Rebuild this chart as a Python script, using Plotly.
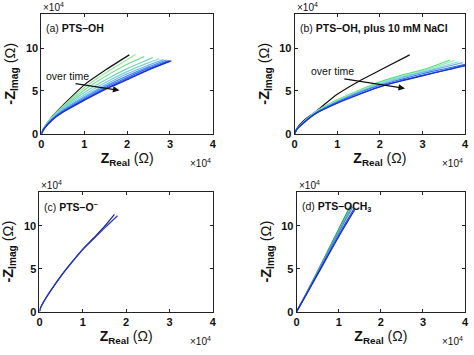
import plotly.graph_objects as go

# ---------------- data (x and y in units of 1e4 ohm) ----------------
# Panel (a): PTS-OH
a_x = [
    [0, 0.05, 0.25, 0.5, 1.0, 1.5, 2.05],
    [0, 0.05, 0.25, 0.5, 1.0, 1.5, 2.2],
    [0, 0.05, 0.25, 0.5, 1.0, 1.5, 2.0, 2.4],
    [0, 0.05, 0.25, 0.5, 1.0, 1.5, 2.0, 2.5, 2.6],
    [0, 0.05, 0.25, 0.5, 1.0, 1.5, 2.0, 2.5, 2.75],
    [0, 0.05, 0.25, 0.5, 1.0, 1.5, 2.0, 2.5, 2.85],
    [0, 0.05, 0.25, 0.5, 1.0, 1.5, 2.0, 2.5, 2.92],
    [0, 0.05, 0.25, 0.5, 1.0, 1.5, 2.0, 2.5, 2.97],
    [0, 0.05, 0.25, 0.5, 1.0, 1.5, 2.0, 2.5, 3.0],
    [0, 0.05, 0.25, 0.5, 1.0, 1.5, 2.0, 2.5, 3.03],
]
a_y = [
    [0, 0.6, 2.0, 3.3, 5.7, 7.45, 9.2],
    [0, 0.6, 1.95, 3.2, 5.4, 7.1, 9.25],
    [0, 0.6, 1.9, 3.1, 5.1, 6.7, 8.1, 9.0],
    [0, 0.55, 1.85, 3.0, 4.8, 6.3, 7.6, 8.68, 8.9],
    [0, 0.55, 1.8, 2.9, 4.55, 6.0, 7.25, 8.3, 8.75],
    [0, 0.5, 1.75, 2.8, 4.35, 5.75, 7.0, 8.0, 8.65],
    [0, 0.5, 1.7, 2.7, 4.2, 5.55, 6.75, 7.8, 8.6],
    [0, 0.5, 1.65, 2.6, 4.05, 5.4, 6.55, 7.65, 8.55],
    [0, 0.5, 1.6, 2.55, 3.95, 5.25, 6.4, 7.5, 8.5],
    [0, 0.5, 1.6, 2.5, 3.9, 5.2, 6.3, 7.45, 8.5],
]
a_colors = ["#111111", "#96e89c", "#7ade98", "#6cd6b4", "#7ccfe0", "#6cb6f0",
            "#4a90ee", "#3a6ae8", "#2a4ae0", "#1a30d8"]

# Panel (b): PTS-OH, plus 10 mM NaCl
b_x = [
    [0, 0.05, 0.25, 0.5, 1.0, 1.5, 2.0, 2.7],
    [0, 0.05, 0.25, 0.5, 1.0, 1.5, 2.0, 2.5, 3.0, 3.65],
    [0, 0.05, 0.25, 0.5, 1.0, 1.5, 2.0, 2.5, 3.0, 3.75],
    [0, 0.05, 0.25, 0.5, 1.0, 1.5, 2.0, 2.5, 3.0, 3.85],
    [0, 0.05, 0.25, 0.5, 1.0, 1.5, 2.0, 2.5, 3.0, 3.95],
    [0, 0.05, 0.25, 0.5, 1.0, 1.5, 2.0, 2.5, 3.0, 3.5, 4.0],
    [0, 0.05, 0.25, 0.5, 1.0, 1.5, 2.0, 2.5, 3.0, 3.5, 4.0],
    [0, 0.05, 0.25, 0.5, 1.0, 1.5, 2.0, 2.5, 3.0, 3.5, 4.0],
]
b_y = [
    [0, 0.6, 1.7, 2.6, 4.6, 6.1, 7.4, 9.2],
    [0, 0.55, 1.55, 2.6, 3.95, 5.05, 6.05, 6.8, 7.45, 8.6],
    [0, 0.55, 1.55, 2.55, 3.9, 5.0, 5.95, 6.7, 7.35, 8.55],
    [0, 0.5, 1.5, 2.5, 3.8, 4.9, 5.85, 6.6, 7.25, 8.4],
    [0, 0.5, 1.5, 2.45, 3.75, 4.85, 5.75, 6.5, 7.15, 8.3],
    [0, 0.5, 1.5, 2.45, 3.7, 4.75, 5.65, 6.35, 7.0, 7.55, 8.1],
    [0, 0.5, 1.45, 2.4, 3.6, 4.6, 5.5, 6.2, 6.8, 7.4, 8.0],
    [0, 0.5, 1.4, 2.35, 3.55, 4.55, 5.45, 6.15, 6.75, 7.35, 7.9],
]
b_colors = ["#111111", "#50e07a", "#8ae8a0", "#8cdce8", "#70b8ee",
            "#3a74e6", "#2a50e0", "#1a34d0"]

# Panel (c): PTS-O-
c_x = [
    [0, 0.03, 0.1, 0.25, 0.5, 0.75, 1.0, 1.25, 1.5, 1.73],
    [0, 0.03, 0.1, 0.25, 0.5, 0.75, 1.0, 1.25, 1.5, 1.8],
]
c_y = [
    [0, 0.5, 1.2, 2.4, 4.2, 5.8, 7.3, 8.6, 9.95, 11.35],
    [0, 0.5, 1.15, 2.35, 4.15, 5.75, 7.25, 8.5, 9.75, 11.2],
]
c_colors = ["#1c2270", "#2436d0"]

# Panel (d): PTS-OCH3
d_x = [
    [0, 0.25, 0.5, 0.75, 1.0, 1.28],
    [0, 0.25, 0.5, 0.75, 1.0, 1.31],
    [0, 0.25, 0.5, 0.75, 1.0, 1.33],
    [0, 0.25, 0.5, 0.75, 1.0, 1.36],
    [0, 0.25, 0.5, 0.75, 1.0, 1.38],
]
d_y = [
    [0, 2.35, 4.75, 7.2, 9.65, 12.4],
    [0, 2.3, 4.65, 7.05, 9.45, 12.3],
    [0, 2.25, 4.55, 6.9, 9.25, 12.2],
    [0, 2.2, 4.45, 6.7, 8.95, 12.0],
    [0, 2.15, 4.35, 6.55, 8.75, 11.9],
]
d_colors = ["#2e9a50", "#4ab8a0", "#4a90e0", "#2a4ee0", "#1a2ac8"]

x_ticks = [0, 1, 2, 3, 4]
y_ticks = [0, 5, 10]

panel_titles = ["(a) <b>PTS–OH</b>", "(b) <b>PTS–OH, plus 10 mM NaCl</b>",
                "(c) <b>PTS–O<sup>−</sup></b>", "(d) <b>PTS–OCH<sub>3</sub></b>"]

# ---------------- figure ----------------
W, H = 474, 355
FONT = "Arial, Liberation Sans, sans-serif"
fig = go.Figure()

panels = [(a_x, a_y, a_colors), (b_x, b_y, b_colors), (c_x, c_y, c_colors), (d_x, d_y, d_colors)]
# pixel boxes (left, right, top, bottom)
boxes = [(39, 213, 14, 136), (296, 469, 14, 136), (37, 213, 195, 317), (298, 469, 195, 317)]

for i, ((xs, ys, cols), box) in enumerate(zip(panels, boxes)):
    n = "" if i == 0 else str(i + 1)
    for xx, yy, cc in zip(xs, ys, cols):
        fig.add_trace(go.Scatter(x=xx, y=yy, mode="lines",
                                 line=dict(color=cc, width=1.2, shape="spline", smoothing=0.8),
                                 xaxis="x" + n, yaxis="y" + n, showlegend=False,
                                 hoverinfo="skip"))
    l, r, t, b = box
    axcommon = dict(showline=True, mirror="ticks", linecolor="#222222", linewidth=1,
                    ticks="inside", ticklen=3, tickcolor="#222222", showgrid=False,
                    zeroline=False, tickfont=dict(family=FONT, size=11, color="#111", weight="bold"))
    fig.update_layout(**{
        "xaxis" + n: dict(domain=[l / W, r / W], range=[0, 4], tickvals=x_ticks,
                          anchor="y" + n,
                          title=dict(text="<b>Z<sub>Real</sub></b> (Ω)", standoff=4,
                                     font=dict(family=FONT, size=14, color="#111")),
                          **axcommon),
        "yaxis" + n: dict(domain=[1 - b / H, 1 - t / H], range=[0, 14], tickvals=y_ticks,
                          anchor="x" + n,
                          title=dict(text="<b>-Z<sub>Imag</sub></b> (Ω)", standoff=6,
                                     font=dict(family=FONT, size=14.5, color="#111")),
                          **axcommon),
    })
    # x10^4 labels
    fig.add_annotation(x=l / W, y=1 - (t + 1) / H, xref="paper", yref="paper",
                       text="×10<sup>4</sup>", showarrow=False, xanchor="left", yanchor="bottom",
                       font=dict(family=FONT, size=10, color="#111"))
    fig.add_annotation(x=r / W, y=1 - (b + 22) / H, xref="paper", yref="paper",
                       text="×10<sup>4</sup>", showarrow=False, xanchor="right", yanchor="top",
                       font=dict(family=FONT, size=10, color="#111"))
    # panel title
    fig.add_annotation(x=(l + 3) / W, y=1 - (t + 6) / H, xref="paper", yref="paper",
                       text=panel_titles[i], showarrow=False, xanchor="left", yanchor="top",
                       font=dict(family=FONT, size=10.5, color="#111"))

# "over time" arrows
arrows = [("", 0.76, 5.86, 1.82, 5.06, 0.62, 6.7), ("2", 1.13, 6.44, 2.59, 5.29, 0.9, 7.36)]
for n, tx, ty, hx, hy, lx, ly in arrows:
    fig.add_annotation(x=hx, y=hy, ax=tx, ay=ty, xref="x" + n, yref="y" + n,
                       axref="x" + n, ayref="y" + n, text="", showarrow=True,
                       arrowhead=2, arrowsize=1, arrowwidth=1.3, arrowcolor="#111")
    fig.add_annotation(x=lx, y=ly, xref="x" + n, yref="y" + n, text="over time",
                       showarrow=False, font=dict(family=FONT, size=10.5, color="#111"))

fig.update_layout(width=W, height=H, margin=dict(l=0, r=0, t=0, b=0),
                  paper_bgcolor="white", plot_bgcolor="white",
                  font=dict(family=FONT, color="#111"))
fig.write_html("out.html", config={"displayModeBar": False},
               post_script="document.body.style.margin='0';document.body.style.padding='0';")
